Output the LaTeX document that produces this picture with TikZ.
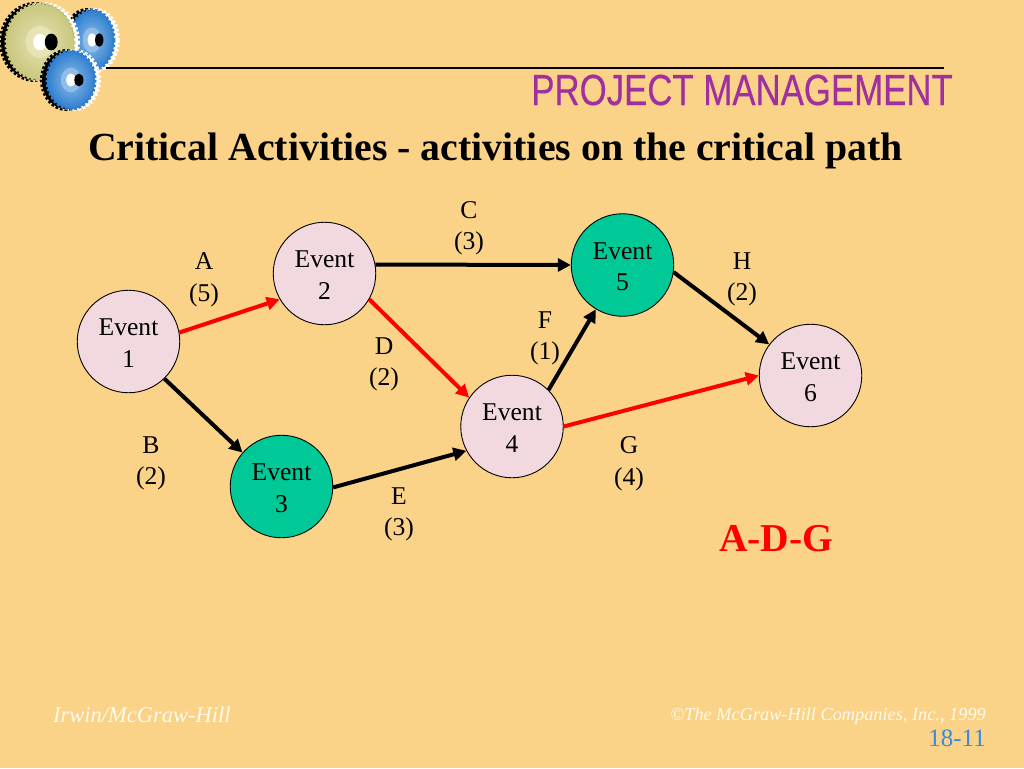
\documentclass[tikz,border=0pt]{standalone}
\usepackage{fontspec}
\setmainfont{Liberation Serif}
\newfontfamily\headfont[FakeStretch=0.8,FakeBold=0.4]{Liberation Sans}
\usetikzlibrary{arrows.meta}
\definecolor{slidebg}{HTML}{FAD388}
\definecolor{eventpink}{HTML}{F2D9E0}
\definecolor{eventgreen}{HTML}{00C896}
\definecolor{headpurple}{HTML}{A0309F}
\definecolor{footcream}{HTML}{FFFAEB}
\definecolor{pageblue}{HTML}{3A8ADB}
\definecolor{pathred}{HTML}{FF0000}
\definecolor{gearolive}{HTML}{C9C77F}
\definecolor{gearpale}{HTML}{E6E3B4}
\definecolor{gearblue}{HTML}{2F7FD0}
\definecolor{gearsky}{HTML}{8FBDE8}
\newcommand{\gearwheel}[6]{
	\fill[white,draw=white,line width=4pt,dash pattern=on 2.5pt off 2pt] (#1+4,#2) ellipse ({#3} and {#4});
	\fill[black,draw=black,line width=4pt,dash pattern=on 2.5pt off 2pt] (#1-5,#2) ellipse ({#3} and {#4});
	\fill[inner color=#6,outer color=#5,draw=#5,line width=3pt,dash pattern=on 2.5pt off 2pt] (#1,#2) ellipse ({#3} and {#4});
	\fill[#6] (#1,#2) ellipse ({0.42*#3} and {0.42*#4});
	\fill[white] (#1,#2) ellipse ({0.2*#3} and {0.22*#4});
	\fill[black] (#1+0.33*#3,#2) ellipse ({0.19*#3} and {0.22*#4});
}
\newcommand{\eventtext}[1]{\rule{0pt}{20pt}Event\\#1}
\begin{document}
\begin{tikzpicture}[x=1pt,y=-1pt,->,>={Triangle[length=13pt,width=13pt]},
		event node/.style={circle,draw,line width=0.9pt,inner sep=0pt,minimum size=102.5pt,align=center,fill=eventpink,font=\fontsize{25.6}{31.5}\selectfont},
		label node/.style={align=center,font=\fontsize{25.6}{31.5}\selectfont},
		plain edge/.style={line width=4pt,black},
		critical edge/.style={line width=4pt,pathred}]
		
		\fill[slidebg,-] (0,0) rectangle (1024,768);
		\useasboundingbox (0,0) rectangle (1024,768);
		
		\gearwheel{92}{40}{22}{30}{gearblue}{gearsky}
		\gearwheel{40}{42}{34}{38}{gearolive}{gearpale}
		\gearwheel{71}{80}{24}{29}{gearblue}{gearsky}
		
		\draw[-,line width=1.4pt] (106,68) -- (944,68);
		
		\node[anchor=base east,inner sep=0pt,font=\fontsize{43.5}{44}\selectfont\headfont,text=headpurple] (head) at (953,105) {PROJECT MANAGEMENT};
		\node[anchor=base west,inner sep=0pt,font=\fontsize{39.8}{44}\selectfont\bfseries] (title) at (88,160) {Critical Activities - activities on the critical path};
		
		\node[event node] (1) at (128.5,341.5) {\eventtext{1}};
		\node[event node] (2) at (324.5,273.5) {\eventtext{2}};
		\node[event node,fill=eventgreen] (3) at (281.5,486.5) {\eventtext{3}};
		\node[event node] (4) at (512,426.5) {\eventtext{4}};
		\node[event node,fill=eventgreen] (5) at (622.5,265) {\eventtext{5}};
		\node[event node] (6) at (810.5,375.5) {\eventtext{6}};
		
		\path
		(1.10) edge[critical edge] (2.210)
		(1.-46) edge[plain edge] (3.139)
		(2.10) edge[plain edge] (5.180)
		(2.-30) edge[critical edge] (4.146)
		(3.-1) edge[plain edge] (4.208)
		(4.45) edge[plain edge] (5.239)
		(4.0) edge[critical edge] (6.180)
		(5.-8) edge[plain edge] (6.143);
		
		\node[label node] (A) at (204,280) {A\\(5)};
		\node[label node] (B) at (151,463.5) {B\\(2)};
		\node[label node] (C) at (469,228) {C\\(3)};
		\node[label node] (D) at (384,364.5) {D\\(2)};
		\node[label node] (E) at (399,514.5) {E\\(3)};
		\node[label node] (F) at (545,338.5) {F\\(1)};
		\node[label node] (G) at (629,463.5) {G\\(4)};
		\node[label node] (H) at (742,279.5) {H\\(2)};
		
		\node[anchor=base west,inner sep=0pt,font=\fontsize{39.5}{44}\selectfont\bfseries,text=pathred] (result) at (719,551) {A-D-G};
		
		\node[anchor=base west,inner sep=0pt,font=\fontsize{22.5}{24}\selectfont\itshape,text=footcream] (irwin) at (53,722) {Irwin/McGraw-Hill};
		\node[anchor=base east,inner sep=0pt,font=\fontsize{18.3}{20}\selectfont\itshape,text=footcream] (copy) at (986,720) {©The McGraw-Hill Companies, Inc., 1999};
		\node[anchor=base east,inner sep=0pt,font=\fontsize{25}{28}\selectfont,text=pageblue] (page) at (986,746) {18-11};
\end{tikzpicture}
\end{document}
